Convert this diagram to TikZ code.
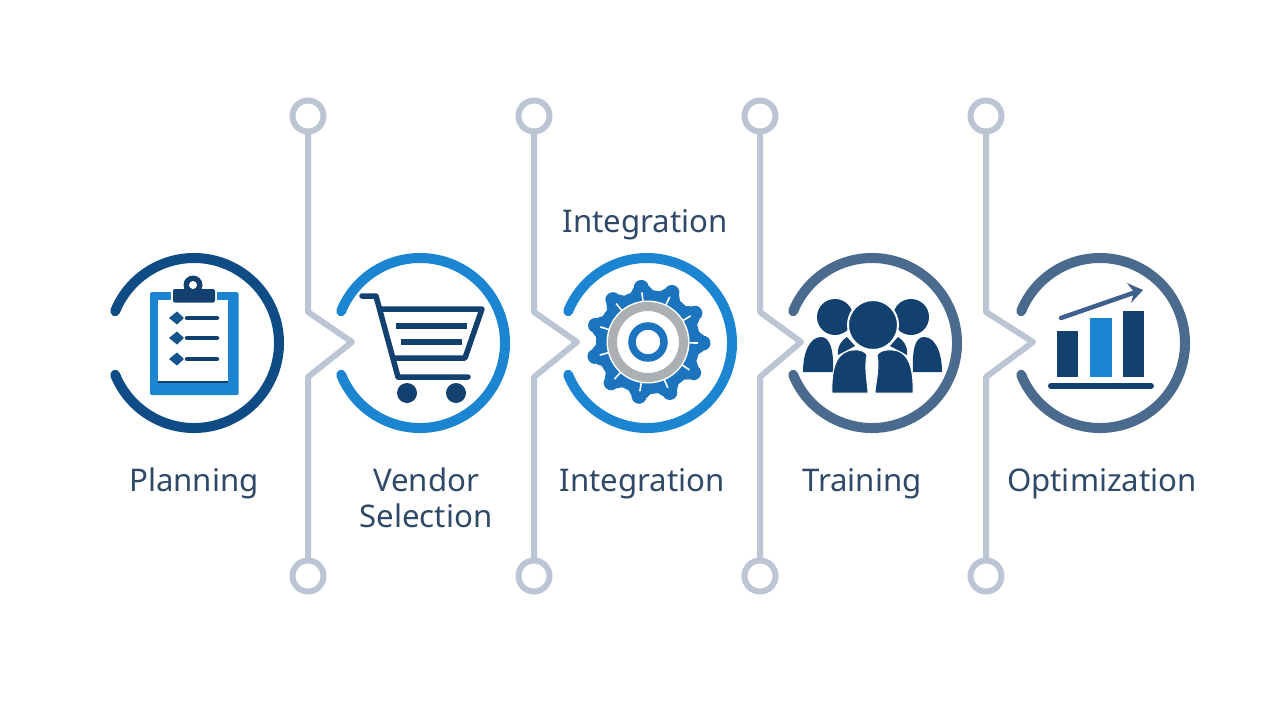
\documentclass[tikz,border=0pt]{standalone}
\usepackage{fontspec}
\setmainfont{Noto Sans}
\definecolor{railc}{HTML}{BCC5D3}
\definecolor{navy}{HTML}{0F4C86}
\definecolor{sky}{HTML}{1B85D1}
\definecolor{slate}{HTML}{4A6A8E}
\definecolor{deep}{HTML}{12406F}
\definecolor{gearc}{HTML}{1C73BE}
\definecolor{greyc}{HTML}{ABB0B5}
\definecolor{textc}{HTML}{2F4A68}
\definecolor{arrowc}{HTML}{3F5F8E}
\tikzset{
 x=1pt,y=-1pt,
 railnode/.style={circle,draw=railc,line width=6pt,fill=white,minimum size=31pt,inner sep=0pt,outer sep=0pt},
 rail/.style={draw=railc,line width=6pt,line join=round,line cap=round},
 ring/.style={line width=10pt,line cap=round},
 label/.style={text=textc,font=\fontsize{31.2}{36}\selectfont,align=center,inner sep=0pt,anchor=base},
 dk/.style={draw=deep,line width=5.5pt,line cap=round,line join=round},
}
\begin{document}
\begin{tikzpicture}
\useasboundingbox (0,0) rectangle (1280,720);
\fill[white] (0,0) rectangle (1280,720);
% rails
\foreach \n/\x/\tx in {1/308/352,2/534/577,3/760/801,4/986/1033}{
 \node[railnode] (t\n) at (\x,116) {};
 \node[railnode] (b\n) at (\x,576) {};
 \coordinate (u\n) at (\x,312);
 \coordinate (p\n) at (\tx,342);
 \coordinate (d\n) at (\x,377);
 \draw[rail] (t\n) -- (u\n) -- (p\n) -- (d\n) -- (b\n);
}
% rings
\foreach \cx/\c in {194/navy,420/sky,647/sky,872/slate,1100/slate}{
 \draw[ring,draw=\c] (\cx,343) ++(158:85) arc (158:-158:85);
}
% clipboard
\fill[sky,rounded corners=1.5pt] (150,292) rectangle (238.5,395);
\fill[white] (158,300) rectangle (228,382);
\fill[white] (171,290) rectangle (217,300);
\fill[deep] (158,381) rectangle (228,383);
\fill[deep,rounded corners=2pt] (173,289) rectangle (215,302.5);
\fill[deep] (193,285) circle (9.5);
\fill[white] (193,285) circle (4);
\foreach \yy in {318,338,359}{
 \draw[line width=4.5pt,draw=deep,line cap=round] (187,\yy) -- (217,\yy);
 \fill[deep!70!sky] (169,\yy) -- (177,\yy-6.5) -- (184,\yy) -- (177,\yy+6.5) -- cycle;
}
% cart
\draw[dk] (362,296) -- (376,296) -- (398,377) -- (468,377);
\draw[dk] (382,309) -- (482,309) -- (465,358) -- (395,358);
\draw[line width=6pt,draw=deep] (396,326) -- (467,326);
\draw[line width=6pt,draw=deep] (401,342) -- (462,342);
\fill[deep] (407,393) circle (10);
\fill[deep] (456,393) circle (10);
% gear
\begin{scope}[shift={(648,342)}]
 \fill[gearc] (0,0) circle (52);
 \foreach \a in {0,1,...,10}{
  \pgfmathsetmacro{\ang}{-97+\a*32.73}
  \fill[gearc] (\ang-15:50) -- (\ang-8:56) -- (\ang+8:56) -- (\ang+15:50) -- cycle;
  \draw[gearc,line width=15pt,line cap=round] (\ang:45) -- (\ang:55);
 }
 \fill[white] (0,0) circle (41.5);
 \foreach \a in {0,1,...,10}{
  \draw[white,line width=1.6pt] (-97+\a*32.73:40) -- (-97+\a*32.73:50);
 }
 \draw[greyc,line width=9pt] (-79:35.5) arc (-79:-440:35.5);
 \draw[greyc,line width=9pt] (-74:35.5) arc (-74:-45:35.5);
 \draw[gearc,line width=7.5pt] (0,0) circle (16);
\end{scope}
% people
\fill[deep] (835,317) circle (18);
\fill[deep] (911,317) circle (18);
\fill[deep] (803,372) .. controls (803,352) and (810,337) .. (821,337) .. controls (830,337) and (834,350) .. (833,372) -- cycle;
\fill[deep] (942,372) .. controls (942,352) and (935,337) .. (924,337) .. controls (915,337) and (912,350) .. (913,372) -- cycle;
\fill[deep] (838,355) .. controls (837,346) and (842,340) .. (847,337) -- (855,346) -- cycle;
\fill[deep] (907,355) .. controls (908,346) and (903,340) .. (898,337) -- (890,346) -- cycle;
\fill[deep,draw=white,line width=2pt] (873,325) circle (25);
\fill[deep,draw=white,line width=1pt] (832,393) .. controls (831,365) and (838,351) .. (853,350) .. controls (860,349) and (866,352) .. (867,355) .. controls (864,368) and (868,385) .. (868,393) -- cycle;
\fill[deep,draw=white,line width=1pt] (913,393) .. controls (914,365) and (907,351) .. (893,350) .. controls (886,349) and (879,351) .. (877,355) .. controls (880,368) and (875,385) .. (875,393) -- cycle;
% chart
\fill[deep] (1057,331) rectangle (1078,377);
\fill[sky] (1090,318) rectangle (1112,377);
\fill[deep] (1123,311) rectangle (1144,377);
\draw[line width=6pt,draw=deep,line cap=round] (1051,386) -- (1151,386);
\draw[line width=4.5pt,draw=arrowc,line cap=round] (1061,318) -- (1136,292);
\fill[arrowc] (1127,283) -- (1143,290) -- (1131,303) -- (1134,292) -- cycle;
% labels
\node[label] (l1) at (194,491) {Planning};
\node[label] (l2a) at (426,491) {Vendor};
\node[label] (l2b) at (426,527) {Selection};
\node[label] (l3a) at (645,232) {Integration};
\node[label] (l3b) at (642,491) {Integration};
\node[label] (l4) at (862,491) {Training};
\node[label] (l5) at (1102,491) {Optimization};
\end{tikzpicture}
\end{document}
